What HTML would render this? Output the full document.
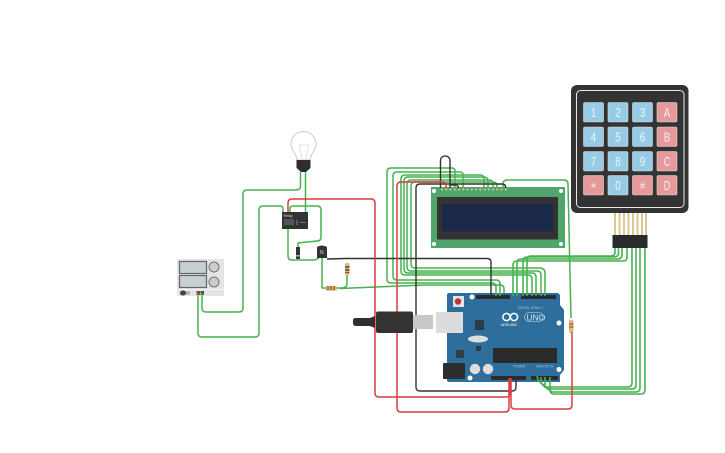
<!DOCTYPE html>
<html><head><meta charset="utf-8"><style>
html,body{margin:0;padding:0;background:#fff;width:725px;height:453px;overflow:hidden}
svg{display:block}
text{font-family:"Liberation Sans",sans-serif}
</style></head><body>
<svg width="725" height="453" viewBox="0 0 725 453" xmlns="http://www.w3.org/2000/svg">
<!-- power supply -->
<rect x="177" y="259" width="47" height="37" fill="#e4e4e4"/>
<rect x="179.500" y="261.500" width="27" height="12" fill="#c5d0d2" stroke="#666" stroke-width="1.200"/>
<rect x="179.500" y="275.500" width="27" height="12" fill="#c5d0d2" stroke="#666" stroke-width="1.200"/>
<circle cx="214" cy="267" r="5" fill="#ccc" stroke="#777"/>
<circle cx="214" cy="282" r="5" fill="#ccc" stroke="#777"/>
<rect x="177" y="289" width="47" height="1" fill="#f5f5f5"/>
<rect x="180" y="290.500" width="6" height="5" rx="2.500" fill="#444"/>
<rect x="186" y="291.500" width="4" height="3" fill="#aaa"/>
<rect x="196.500" y="291" width="3.500" height="4" fill="#b3303a"/>
<rect x="200.500" y="291" width="3.500" height="4" fill="#3d5a45"/>
<!-- bulb -->
<path d="M297 160 C296 152 291 151 291 144 A12.500 12.500 0 1 1 316 144 C316 151 311 152 310 160Z" fill="#fff" stroke="#ccc" stroke-width="1"/>
<path d="M299 145 L309 145 L305.500 160 M299 145 L302.500 160" fill="none" stroke="#ddd" stroke-width=".8"/>
<path d="M296.500 160 H310.500 V168 L306 172 H301 L296.500 168Z" fill="#2e2e2e"/>
<!-- bulb / supply wires -->
<g fill="none" stroke="#46b24f" stroke-width="1.500" stroke-linejoin="round">
<path d="M300.500 172 V186 Q300.500 190 296 190 H247 Q243 190 243 194 V308 Q243 312 239 312 H206 Q202 312 202 308 V293"/>
<path d="M305.500 172 V213"/>
<path d="M198 293 V333 Q198 337 202 337 H255 Q259 337 259 333 V210 Q259 206 263 206 H280 Q283 206 283 209 V213"/>
<path d="M290 212 V209 Q290 206 293 206 H317 Q321 206 321 210 V237 Q321 241 317 241 L298 243 V248"/>
<path d="M288 228 V256 Q288 260 292 260 H315 L319 258"/>
<path d="M322 257 V288 H326"/>
<path d="M336 288 H342 Q347 288 347 283 V275"/>
<path d="M340 288.500 L425 285 H500 Q504 285 504 289 V296"/>
</g>
<!-- LCD -->
<rect x="431" y="187" width="134" height="61" fill="#4fa56c"/>
<rect x="437" y="197" width="121" height="42.500" rx="1" fill="#333"/>
<rect x="442" y="204" width="111" height="27.500" fill="#1b2a4b"/>
<g fill="#fff"><circle cx="434" cy="191" r="2"/><circle cx="561" cy="191" r="2"/><circle cx="434" cy="244" r="2"/><circle cx="561" cy="244" r="2"/></g>
<g fill="#c9c58c">
<circle cx="442" cy="189.500" r="1.100"/><circle cx="446.300" cy="189.500" r="1.100"/><circle cx="450.500" cy="189.500" r="1.100"/><circle cx="454.800" cy="189.500" r="1.100"/><circle cx="459" cy="189.500" r="1.100"/><circle cx="463.300" cy="189.500" r="1.100"/><circle cx="467.600" cy="189.500" r="1.100"/><circle cx="471.800" cy="189.500" r="1.100"/><circle cx="476" cy="189.500" r="1.100"/><circle cx="480.300" cy="189.500" r="1.100"/><circle cx="484.600" cy="189.500" r="1.100"/><circle cx="488.800" cy="189.500" r="1.100"/><circle cx="493" cy="189.500" r="1.100"/><circle cx="497.300" cy="189.500" r="1.100"/><circle cx="501.600" cy="189.500" r="1.100"/><circle cx="505.800" cy="189.500" r="1.100"/>
</g>
<!-- Arduino -->
<path d="M449 293 H558 L560 295 V305 L564 310 V370 L560 375 V382 H449 Q447 382 447 380 V295 Q447 293 449 293Z" fill="#2d6e9d"/>
<rect x="443" y="363" width="22" height="16" rx="1" fill="#2d2d2d"/>
<rect x="453" y="296" width="11" height="11" fill="#e3e3e3"/>
<circle cx="458" cy="301.500" r="3.200" fill="#b3392f"/>
<rect x="476" y="295" width="34" height="4" fill="#2b2b2b"/>
<rect x="521" y="295" width="35" height="4" fill="#2b2b2b"/>
<rect x="491" y="376" width="35" height="4" fill="#2b2b2b"/>
<rect x="531" y="376" width="27" height="4" fill="#2b2b2b"/>
<rect x="475" y="320" width="9" height="10" fill="#2b3b47"/>
<ellipse cx="478" cy="339" rx="10" ry="3.500" fill="#ddd"/>
<rect x="493" y="348" width="64" height="15" fill="#2a2a2a"/>
<rect x="456" y="350" width="8" height="8" fill="#2d3d49"/>
<rect x="476" y="346" width="5" height="5" fill="#2b3b47"/>
<circle cx="475" cy="369" r="5.200" fill="#ddd"/>
<circle cx="488" cy="369" r="5.200" fill="#ddd"/>
<circle cx="472" cy="297" r="2.500" fill="#fff"/>
<circle cx="559" cy="323" r="2.500" fill="#fff"/>
<circle cx="559" cy="369.500" r="2.500" fill="#fff"/>
<circle cx="470" cy="378" r="2.500" fill="#fff"/>
<circle cx="506.500" cy="317" r="3.600" fill="none" stroke="#fff" stroke-width="1.500"/>
<circle cx="514" cy="317" r="3.600" fill="none" stroke="#fff" stroke-width="1.500"/>
<rect x="524.500" y="312.500" width="18.500" height="9" rx="4.500" fill="none" stroke="#cfe0ec" stroke-width=".6"/>
<text x="526.500" y="320.500" font-size="8.500" fill="#d5e5f0">UNO</text>
<text x="501" y="326" font-size="3.500" fill="#fff">ARDUINO</text>
<text x="513" y="367.500" font-size="3.200" fill="#a9c6da">POWER</text>
<text x="536" y="367.500" font-size="3.200" fill="#a9c6da">ANALOG IN</text>
<text x="518" y="309" font-size="3.200" fill="#a9c6da">DIGITAL (PWM~)</text>
<!-- LCD / Arduino wires -->
<g fill="none" stroke="#46b24f" stroke-width="1.500" stroke-linejoin="round">
<path d="M455 188 V171 Q455 168 452 168 H391 Q387 168 387 172 V279 Q387 283 391 283 H492 Q496 283 496 287 V296"/>
<path d="M463 188 V175 Q463 172 460 172 H397 Q393 172 393 176 V276 Q393 280 397 280 H496 Q500 280 500 284 V296"/>
<path d="M484 188 V179 Q484 175 480 175 H405 Q401 175 401 179 V271 Q401 275 405 275 H528 Q532 275 532 279 V296"/>
<path d="M488 188 V181 Q488 177 484 177 H408 Q404 177 404 181 V269 Q404 273 408 273 H532 Q536 273 536 277 V296"/>
<path d="M493 188 V184 Q493 180 489 180 H411 Q407 180 407 184 V267 Q407 271 411 271 H537 Q541 271 541 275 V296"/>
<path d="M497 188 V186 Q497 182 493 182 H415 Q411 182 411 186 V264 Q411 268 415 268 H541 Q545 269 545 273 V296"/>
<path d="M503 188 V184 Q503 180 507 180 H564 Q568 180 568 184 L571 318"/>
<path d="M571 331 V333"/>
<g stroke-width="1.600">
<path d="M615 248 V252 Q615 256 611 256 H531 Q527 256 527 260 V296"/>
<path d="M618.500 248 V253 Q618.500 257 614 257 H527 Q523 257 523 261 V296"/>
<path d="M622 248 V254 Q622 259 618 259 H521 Q517 259 517 263 V296"/>
<path d="M627 248 V257 Q627 261 623 261 H517 Q513 261 513 265 V296"/>
<path d="M632 248 V383 Q632 387 628 387 H545 L538 380 L537 376"/>
<path d="M636 248 V385 Q636 389 632 389 H549 L541 383 V377"/>
<path d="M640 248 V388 Q640 392 636 392 H552 L545 387 V377"/>
<path d="M645 248 V390 Q645 394 641 394 H554 Q550 394 550 390 V377"/>
</g>
</g>
<!-- black wires -->
<g fill="none" stroke="#333" stroke-width="1.400" stroke-linejoin="round">
<path d="M440.500 188 V160 A4.800 4.800 0 0 1 450 160 V188"/>
<path d="M450 185 H457 L459 188"/>
<path d="M505.500 188 V187 Q505.500 184 502 184 H420 Q416 184 416 188 V387 Q416 391 420 391 H512 Q516 391 516 387 V378"/>
<path d="M327 259 L345 258.500 H487 Q491 258.500 491 262 V296"/>
</g>
<!-- red wires -->
<g fill="none" stroke="#dd3a3f" stroke-width="1.500" stroke-linejoin="round">
<path d="M288 213 V203 Q288 199 292 199 H371 Q375 199 375 203 V393 Q375 397 379 397 H506 Q510 397 510 393 V378"/>
<path d="M446 188 V186 Q446 182 442 182 H401 Q397 182 397 186 V408 Q397 412 401 412 H505 Q509 412 509 408 V378"/>
<path d="M511 378 V405 Q511 409 515 409 H568 Q572 409 572 405 V332"/>
</g>
<!-- USB cable over the wires -->
<rect x="436" y="312" width="27" height="21" fill="#dcdcdc"/>
<rect x="413" y="315" width="20" height="14" fill="#c8c8c8"/>
<rect x="376" y="311.500" width="37" height="21.500" rx="2" fill="#333"/>
<path d="M353 320 Q353 318 356 318 H370 L375 316 V328 L370 326 H356 Q353 326 353 323Z" fill="#2f2f2f"/>
<!-- relay -->
<rect x="282" y="212" width="26" height="17" fill="#333"/>
<text x="283.500" y="217" font-size="3.500" fill="#ddd">Relay</text>
<path d="M284 220 H294 M284 222 H294 M284 224 H294 M297 220 V225 M300 222.500 H306" stroke="#bbb" stroke-width=".6" fill="none"/>
<!-- diode -->
<rect x="296" y="247" width="4" height="12" fill="#333"/>
<rect x="296" y="255" width="4" height="1.500" fill="#aaa"/>
<!-- transistor -->
<path d="M317 247 Q322 244 327 247 V258 H317Z" fill="#333"/>
<text x="320" y="254" font-size="5" fill="#ddd">N</text>
<!-- resistors -->
<rect x="325" y="286" width="12" height="4.500" rx="1.500" fill="#dcb774"/>
<path d="M328 286 V290.500 M331 286 V290.500 M334 286 V290.500" stroke="#7a3520" stroke-width="1"/>
<rect x="345" y="263" width="4.500" height="12" rx="1.500" fill="#dcb774"/>
<path d="M345 267 H349.500 M345 270 H349.500" stroke="#333" stroke-width="1.200"/>
<path d="M345 272.500 H349.500" stroke="#c33" stroke-width="1"/>
<rect x="569" y="320" width="4.500" height="12" rx="1.500" fill="#dcb774"/>
<path d="M569 324 H573.500 M569 327 H573.500" stroke="#a33b20" stroke-width="1.100"/>
<!-- keypad -->
<rect x="571" y="85" width="117.500" height="128" rx="6" fill="#333"/>
<rect x="576.500" y="90.500" width="107.500" height="117" rx="4" fill="none" stroke="#e8e8e8" stroke-width="1"/>
<g font-size="13" text-anchor="middle" fill="#f2f2f2">
<rect x="583.500" y="102.500" width="20" height="19.500" rx="1.500" fill="#98cbe6" stroke="#ddd" stroke-width=".6"/><text x="593.500" y="117" textLength="5.500" lengthAdjust="spacingAndGlyphs">1</text>
<rect x="608" y="102.500" width="20" height="19.500" rx="1.500" fill="#98cbe6" stroke="#ddd" stroke-width=".6"/><text x="618" y="117" textLength="5.500" lengthAdjust="spacingAndGlyphs">2</text>
<rect x="632.500" y="102.500" width="20" height="19.500" rx="1.500" fill="#98cbe6" stroke="#ddd" stroke-width=".6"/><text x="642.500" y="117" textLength="5.500" lengthAdjust="spacingAndGlyphs">3</text>
<rect x="657" y="102.500" width="20" height="19.500" rx="1.500" fill="#e69a9c" stroke="#ddd" stroke-width=".6"/><text x="667" y="117" textLength="6.500" lengthAdjust="spacingAndGlyphs">A</text>
<rect x="583.500" y="127" width="20" height="19.500" rx="1.500" fill="#98cbe6" stroke="#ddd" stroke-width=".6"/><text x="593.500" y="141.500" textLength="5.500" lengthAdjust="spacingAndGlyphs">4</text>
<rect x="608" y="127" width="20" height="19.500" rx="1.500" fill="#98cbe6" stroke="#ddd" stroke-width=".6"/><text x="618" y="141.500" textLength="5.500" lengthAdjust="spacingAndGlyphs">5</text>
<rect x="632.500" y="127" width="20" height="19.500" rx="1.500" fill="#98cbe6" stroke="#ddd" stroke-width=".6"/><text x="642.500" y="141.500" textLength="5.500" lengthAdjust="spacingAndGlyphs">6</text>
<rect x="657" y="127" width="20" height="19.500" rx="1.500" fill="#e69a9c" stroke="#ddd" stroke-width=".6"/><text x="667" y="141.500" textLength="6.500" lengthAdjust="spacingAndGlyphs">B</text>
<rect x="583.500" y="151.500" width="20" height="19.500" rx="1.500" fill="#98cbe6" stroke="#ddd" stroke-width=".6"/><text x="593.500" y="166" textLength="5.500" lengthAdjust="spacingAndGlyphs">7</text>
<rect x="608" y="151.500" width="20" height="19.500" rx="1.500" fill="#98cbe6" stroke="#ddd" stroke-width=".6"/><text x="618" y="166" textLength="5.500" lengthAdjust="spacingAndGlyphs">8</text>
<rect x="632.500" y="151.500" width="20" height="19.500" rx="1.500" fill="#98cbe6" stroke="#ddd" stroke-width=".6"/><text x="642.500" y="166" textLength="5.500" lengthAdjust="spacingAndGlyphs">9</text>
<rect x="657" y="151.500" width="20" height="19.500" rx="1.500" fill="#e69a9c" stroke="#ddd" stroke-width=".6"/><text x="667" y="166" textLength="6.500" lengthAdjust="spacingAndGlyphs">C</text>
<rect x="583.500" y="175.500" width="20" height="19.500" rx="1.500" fill="#e69a9c" stroke="#ddd" stroke-width=".6"/><text x="593.500" y="192" textLength="5.500" lengthAdjust="spacingAndGlyphs">*</text>
<rect x="608" y="175.500" width="20" height="19.500" rx="1.500" fill="#98cbe6" stroke="#ddd" stroke-width=".6"/><text x="618" y="190" textLength="5.500" lengthAdjust="spacingAndGlyphs">0</text>
<rect x="632.500" y="175.500" width="20" height="19.500" rx="1.500" fill="#e69a9c" stroke="#ddd" stroke-width=".6"/><text x="642.500" y="189" font-size="10" textLength="5" lengthAdjust="spacingAndGlyphs">#</text>
<rect x="657" y="175.500" width="20" height="19.500" rx="1.500" fill="#e69a9c" stroke="#ddd" stroke-width=".6"/><text x="667" y="190" textLength="6.500" lengthAdjust="spacingAndGlyphs">D</text>
</g>
<path d="M615 213 V235 M619.500 213 V235 M624 213 V235 M628.500 213 V235 M633 213 V235 M637.500 213 V235 M642 213 V235 M646 213 V235" stroke="#dcc793" stroke-width="2"/>
<rect x="612.500" y="235" width="35" height="13" fill="#2b2b2b"/>
</svg>
</body></html>
